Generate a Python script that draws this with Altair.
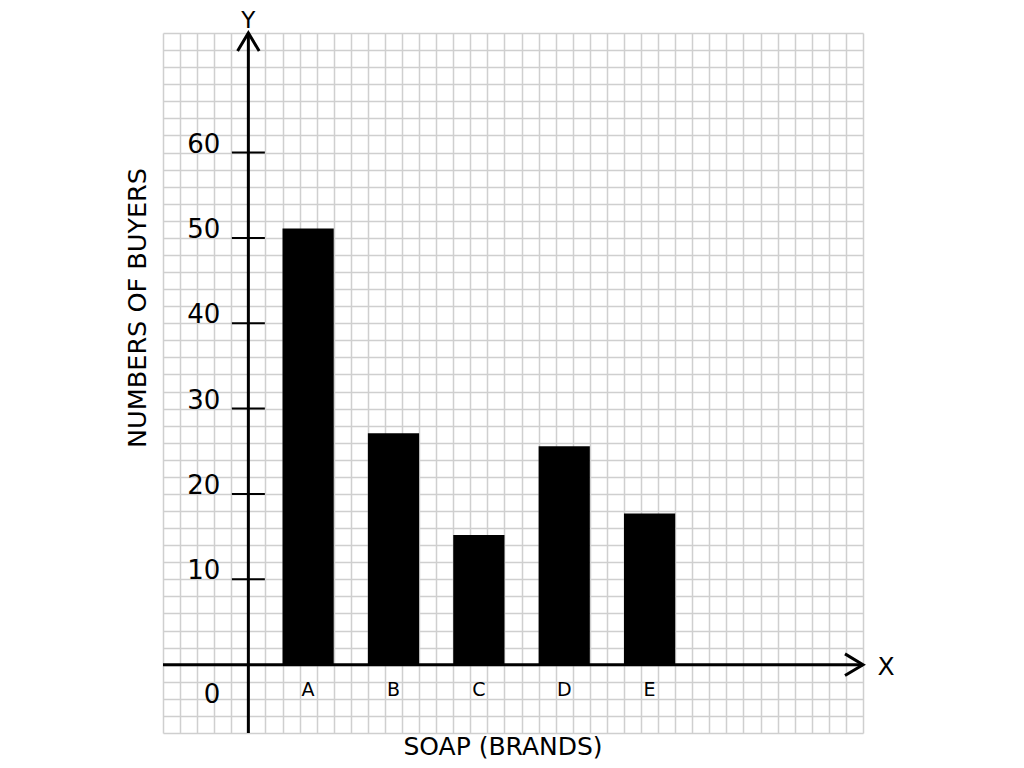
import altair as alt
import pandas as pd

# ---- data ----
brands = ["A", "B", "C", "D", "E"]
buyers = [51.1, 27.1, 15.2, 25.6, 17.7]
tick_values = [10, 20, 30, 40, 50, 60]
tick_labels = ["10", "20", "30", "40", "50", "60"]
zero_label = ["0"]

x_title = "SOAP (BRANDS)"
y_title = "NUMBERS OF BUYERS"

# graph-paper extents (one small square = 2 units)
X_MIN, X_MAX = -10, 72
Y_MIN, Y_MAX = -8, 74
FONT = "DejaVu Sans"
GRID = "#cfcfcf"

bars_df = pd.DataFrame({"brand": brands, "buyers": buyers})
bars_df["center"] = [7 + 10 * i for i in range(len(brands))]
bars_df["left"] = bars_df["center"] - 3
bars_df["right"] = bars_df["center"] + 3
bars_df["base"] = 0

ticks_df = pd.DataFrame({"v": tick_values, "label": tick_labels, "x": 0})
zero_df = pd.DataFrame({"v": [0], "label": zero_label, "x": 0})
axes_df = pd.DataFrame({
    "x": [X_MIN, 0], "x2": [X_MAX, 0],
    "y": [0, Y_MIN], "y2": [0, Y_MAX],
})
xarrow_df = pd.DataFrame({"x": [X_MAX], "y": [0], "t": ["X"]})
yarrow_df = pd.DataFrame({"x": [0], "y": [Y_MAX], "t": ["Y"]})

xs = alt.Scale(domain=[X_MIN, X_MAX], nice=False)
ys = alt.Scale(domain=[Y_MIN, Y_MAX], nice=False)

grid_x = list(range(X_MIN, X_MAX + 1, 2))
grid_y = list(range(Y_MIN, Y_MAX + 1, 2))

gx = alt.Axis(values=grid_x, tickCount=len(grid_x) + 2, grid=True,
              gridColor=GRID, gridWidth=1.5,
              labels=False, ticks=False, domain=False, title="")
gy = alt.Axis(values=grid_y, tickCount=len(grid_y) + 2, grid=True,
              gridColor=GRID, gridWidth=1.5,
              labels=False, ticks=False, domain=False, title="")

bars = alt.Chart(bars_df).mark_bar(color="black").encode(
    x=alt.X("left:Q", scale=xs, axis=gx),
    x2="right:Q",
    y=alt.Y("buyers:Q", scale=ys, axis=gy),
    y2="base:Q",
)

axes = alt.Chart(axes_df).mark_rule(color="black", strokeWidth=3).encode(
    x=alt.X("x:Q", scale=xs), x2="x2:Q",
    y=alt.Y("y:Q", scale=ys), y2="y2:Q",
)

xarrow = alt.Chart(xarrow_df).mark_point(
    shape="M -1 -0.6 L 0 0 L -1 0.6", size=1296, filled=False,
    color="black", strokeWidth=3, opacity=1,
).encode(x=alt.X("x:Q", scale=xs), y=alt.Y("y:Q", scale=ys))

yarrow = alt.Chart(yarrow_df).mark_point(
    shape="M -0.6 1 L 0 0 L 0.6 1", size=1296, filled=False,
    color="black", strokeWidth=3, opacity=1,
).encode(x=alt.X("x:Q", scale=xs), y=alt.Y("y:Q", scale=ys))

xletter = alt.Chart(xarrow_df).mark_text(
    font=FONT, fontSize=25, align="center", baseline="middle", dx=23, dy=2,
    color="black",
).encode(x=alt.X("x:Q", scale=xs), y=alt.Y("y:Q", scale=ys), text="t:N")

yletter = alt.Chart(yarrow_df).mark_text(
    font=FONT, fontSize=23, align="center", baseline="middle", dy=-12,
    color="black",
).encode(x=alt.X("x:Q", scale=xs), y=alt.Y("y:Q", scale=ys), text="t:N")

ticks = alt.Chart(ticks_df).mark_tick(
    orient="horizontal", size=33, thickness=2, color="black", opacity=1,
).encode(x=alt.X("x:Q", scale=xs), y=alt.Y("v:Q", scale=ys))

tick_text = alt.Chart(ticks_df).mark_text(
    font=FONT, fontSize=26, align="right", baseline="alphabetic", dx=-28,
    color="black",
).encode(x=alt.X("x:Q", scale=xs), y=alt.Y("v:Q", scale=ys), text="label:N")

zero_text = alt.Chart(zero_df).mark_text(
    font=FONT, fontSize=26, align="right", baseline="alphabetic", dx=-28, dy=38,
    color="black",
).encode(x=alt.X("x:Q", scale=xs), y=alt.Y("v:Q", scale=ys), text="label:N")

brand_text = alt.Chart(bars_df).mark_text(
    font=FONT, fontSize=19, align="center", baseline="middle", dy=25,
    color="black",
).encode(x=alt.X("center:Q", scale=xs), y=alt.Y("base:Q", scale=ys), text="brand:N")

ytitle = alt.Chart(pd.DataFrame({"t": [y_title]})).mark_text(
    font=FONT, fontSize=25.5, angle=270, align="center", baseline="middle",
    color="black",
).encode(x=alt.value(-25), y=alt.value(275), text="t:N")

xtitle = alt.Chart(pd.DataFrame({"t": [x_title]})).mark_text(
    font=FONT, fontSize=25, align="center", baseline="middle",
    color="black",
).encode(x=alt.value(340), y=alt.value(714), text="t:N")

chart = alt.layer(
    bars, axes, ticks, xarrow, yarrow, xletter, yletter,
    tick_text, zero_text, brand_text, ytitle, xtitle,
).properties(
    width=700, height=700,
    padding={"left": 155, "top": 25, "right": 150, "bottom": 35},
    autosize=alt.AutoSizeParams(type="none"),
    background="white",
).configure_view(strokeWidth=0)

chart.save("out.html", embed_options={"renderer": "svg", "actions": False})
